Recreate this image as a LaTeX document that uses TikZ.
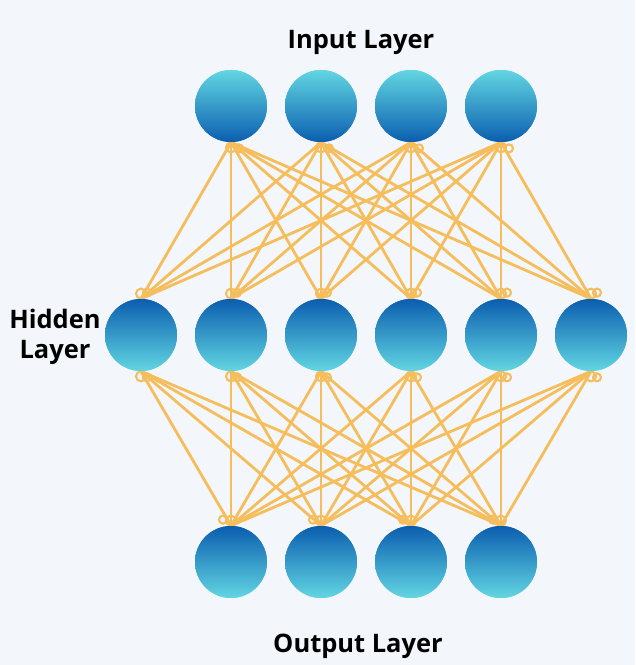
\documentclass[tikz,border=0pt]{standalone}
\usepackage{fontspec}
\setmainfont{Open Sans}
\definecolor{bg}{HTML}{F3F7FB}
\definecolor{edge}{HTML}{F5BD5C}
\definecolor{dark}{HTML}{0B5EAF}
\definecolor{light}{HTML}{62D6E2}
\tikzset{
 neuronup/.style={circle,minimum size=72*0.02cm,inner sep=0pt,top color=light,bottom color=dark,shading angle=0},
 neurondown/.style={circle,minimum size=72*0.02cm,inner sep=0pt,top color=dark,bottom color=light},
 conn/.style={draw=edge,line width=1.6pt},
 tip/.style={draw=edge,line width=1.2pt,fill=none},
 lbl/.style={font=\bfseries\fontsize{14.5}{17}\selectfont,text=black,align=center}
}
\begin{document}
\begin{tikzpicture}[x=0.02cm,y=-0.02cm]
\fill[bg] (0,0) rectangle (635,665);
\useasboundingbox (0,0) rectangle (635,665);
\foreach \n/\x in {1/231,2/321,3/411,4/501}{
  \node[neuronup] (i\n) at (\x,106) {};
  \node[neurondown] (o\n) at (\x,562) {};
}
\foreach \n/\x in {1/141,2/231,3/321,4/411,5/501,6/591}
  \node[neurondown] (h\n) at (\x,335) {};
\foreach \a in {1,2,3,4}{
  \foreach \b in {1,...,6}{
    \draw[conn] (i\a.south) -- (h\b.north);
    \draw[conn] (h\b.south) -- (o\a.north);
  }
}
\foreach \a in {1,2,3,4}{
  \draw[tip] ([yshift=-5*0.02cm]i\a.south) circle (5*0.02cm);
  \draw[tip] ([xshift=8*0.02cm,yshift=-6*0.02cm]i\a.south) circle (4*0.02cm);
  \draw[tip] ([yshift=5*0.02cm]o\a.north) circle (5*0.02cm);
  \draw[tip] ([xshift=-8*0.02cm,yshift=6*0.02cm]o\a.north) circle (4*0.02cm);
}
\foreach \b in {1,...,6}{
  \draw[tip] ([yshift=5*0.02cm]h\b.north) circle (5*0.02cm);
  \draw[tip] ([xshift=6*0.02cm,yshift=6*0.02cm]h\b.north) circle (4*0.02cm);
  \draw[tip] ([yshift=-5*0.02cm]h\b.south) circle (5*0.02cm);
  \draw[tip] ([xshift=6*0.02cm,yshift=-6*0.02cm]h\b.south) circle (4*0.02cm);
}
\foreach \n in {1,2,3,4}{
  \node[neuronup] at (i\n) {};
  \node[neurondown] at (o\n) {};
}
\foreach \n in {1,...,6} \node[neurondown] at (h\n) {};
\node[lbl] (tin) at (361,42) {Input Layer};
\node[lbl] (thid) at (55,337) {Hidden\\Layer};
\node[lbl] (tout) at (358,646) {Output Layer};
\end{tikzpicture}
\end{document}
